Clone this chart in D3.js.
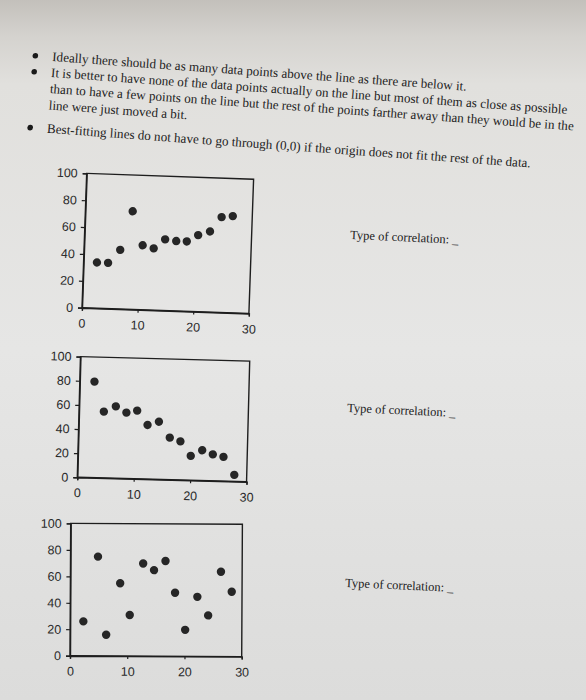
<!DOCTYPE html>
<html>
<head>
<meta charset="utf-8">
<script src="https://cdn.jsdelivr.net/npm/d3@7"></script>
<style>
  html, body { margin: 0; padding: 0; background: #e3e3e1; }
  svg { display: block; }
</style>
</head>
<body>
<svg id="chart" width="586" height="700"></svg>
<script>
// ---- data ----
const notes = [
  "Ideally there should be as many data points above the line as there are below it.",
  "It is better to have none of the data points actually on the line but most of them as close as possible",
  "than to have a few points on the line but the rest of the points farther away than they would be in the",
  "line were just moved a bit.",
  "Best-fitting lines do not have to go through (0,0) if the origin does not fit the rest of the data."
];
const bulletLines = [0, 1, 4];
const xTicks = [0, 10, 20, 30];
const yTicks = [0, 20, 40, 60, 80, 100];
const labelText = "Type of correlation: _";

const xA = [2.4, 4.4, 6.5, 8.5, 10.5, 12.5, 14.5, 16.5, 18.4, 20.4, 22.5, 24.5, 26.5];
const yA = [34, 34, 44, 73, 48, 46, 53, 52, 52, 57, 60, 71, 72];

const xB = [2.6, 4.4, 6.5, 8.4, 10.3, 12.2, 14.2, 16.2, 18.1, 20, 22, 23.9, 25.8, 27.8];
const yB = [79.6, 55, 59.6, 54.6, 56.5, 44.9, 47.8, 34.9, 32, 20.2, 25.1, 21.9, 20.1, 5.4];

const xC = [2.3, 4.8, 6.3, 8.7, 10.4, 12.7, 14.6, 16.6, 18.3, 20.1, 22.2, 24.1, 26.3, 28.2];
const yC = [26, 75, 16, 55, 31, 70, 65, 72, 48, 20, 45, 31, 64, 49];

// ---- drawing ----
const svg = d3.select("#chart");
const defs = svg.append("defs");
const grad = defs.append("linearGradient").attr("id", "bg")
  .attr("x1", 0).attr("y1", 0).attr("x2", 0).attr("y2", 1);
[[0, "#c3c0bb"], [0.05, "#d4d2ce"], [0.12, "#e1e0dd"], [0.5, "#e6e6e5"], [1, "#dcdcdb"]]
  .forEach(([o, c]) => grad.append("stop").attr("offset", o).attr("stop-color", c));
svg.append("rect").attr("width", 586).attr("height", 700).attr("fill", "url(#bg)");

const serif = "'Liberation Serif', 'Times New Roman', serif";
const sans = "'Liberation Sans', Arial, sans-serif";

// notes block
const notesG = svg.append("g").attr("transform", "translate(52,61) rotate(4.1)");
const lineY = [0, 16, 32, 48.5, 72];
notesG.selectAll("text.note").data(notes).join("text")
  .attr("class", "note")
  .attr("x", 0).attr("y", (d, i) => lineY[i])
  .attr("font-family", serif).attr("font-size", 13.1).attr("fill", "#222")
  .text(d => d);
notesG.selectAll("circle.bullet").data(bulletLines).join("circle")
  .attr("class", "bullet")
  .attr("cx", -17).attr("cy", d => lineY[d] - 4).attr("r", 2.8).attr("fill", "#1a1a1a");

function scatter(cfg) {
  const g = svg.append("g")
    .attr("transform", `translate(${cfg.ox},${cfg.oy}) rotate(${cfg.rot})`);
  const x = d3.scaleLinear().domain([0, 30]).range([0, cfg.w]);
  const y = d3.scaleLinear().domain([0, 100]).range([0, -cfg.h]);

  g.append("rect").attr("x", 0).attr("y", -cfg.h).attr("width", cfg.w).attr("height", cfg.h)
    .attr("fill", "none").attr("stroke", "#1e1e1e").attr("stroke-width", 1.4);

  const ya = g.append("g").call(d3.axisLeft(y).tickValues(yTicks).tickSize(4).tickPadding(5));
  const xa = g.append("g").call(d3.axisBottom(x).tickValues(xTicks).tickSize(3).tickPadding(8));
  [ya, xa].forEach(a => {
    a.select(".domain").attr("stroke", "#1e1e1e").attr("stroke-width", 1.4);
    a.selectAll(".tick line").attr("stroke", "#1e1e1e").attr("stroke-width", 1.2);
    a.selectAll(".tick text").attr("font-family", sans).attr("font-size", 12.5).attr("fill", "#2a2a2a");
  });

  g.selectAll("circle.dot").data(cfg.xs.map((v, i) => [v, cfg.ys[i]])).join("circle")
    .attr("class", "dot")
    .attr("cx", d => x(d[0])).attr("cy", d => y(d[1]))
    .attr("r", 4.2).attr("fill", "#262626");

  svg.append("text")
    .attr("transform", `translate(${cfg.lx},${cfg.ly}) rotate(2.5)`)
    .attr("font-family", serif).attr("font-size", 12.5).attr("fill", "#222")
    .text(labelText);
}

scatter({ xs: xA, ys: yA, ox: 82, oy: 307.7, w: 167, h: 134.4, rot: 2, lx: 350, ly: 239 });
scatter({ xs: xB, ys: yB, ox: 77.3, oy: 477.3, w: 169.3, h: 120.7, rot: 1.5, lx: 347, ly: 412 });
scatter({ xs: xC, ys: yC, ox: 70, oy: 655.7, w: 171.7, h: 132.3, rot: 0.3, lx: 345, ly: 587 });
</script>
</body>
</html>
